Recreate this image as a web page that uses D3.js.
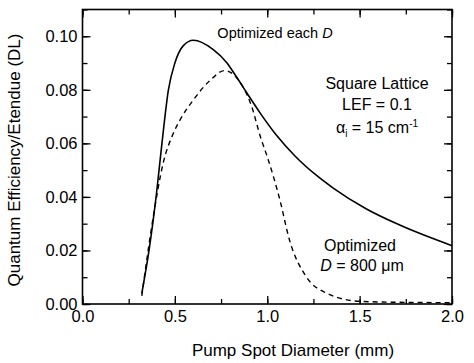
<!DOCTYPE html>
<html>
<head>
<meta charset="utf-8">
<script src="https://cdn.jsdelivr.net/npm/d3@7"></script>
<style>
  body { margin: 0; background: #fff; }
  svg { display: block; font-family: "Liberation Sans", Arial, sans-serif; }
</style>
</head>
<body>
<div id="graph"></div>
<script>
// pump spot diameter (mm) vs quantum efficiency / etendue
const solidX = [0.321, 0.36, 0.40, 0.43, 0.465, 0.50, 0.546, 0.60, 0.708, 0.781, 0.825, 0.889, 0.961, 1.05, 1.15, 1.267, 1.357, 1.537, 1.717, 2.0];
const solidY = [0.004, 0.020, 0.041, 0.060, 0.080, 0.090, 0.0965, 0.0985, 0.0950, 0.0901, 0.0857, 0.0789, 0.0714, 0.0630, 0.0553, 0.0480, 0.0433, 0.0355, 0.0295, 0.0218];
const dashX = [0.321, 0.384, 0.438, 0.49, 0.53, 0.60, 0.69, 0.77, 0.834, 0.915, 0.965, 1.0, 1.068, 1.12, 1.21, 1.32, 1.5, 1.75, 2.0];
const dashY = [0.003, 0.033, 0.053, 0.0635, 0.069, 0.0762, 0.0835, 0.0872, 0.0845, 0.0739, 0.062, 0.055, 0.039, 0.024, 0.0103, 0.0041, 0.001, 0.0006, 0.0005];
const xTicks = [0, 0.5, 1.0, 1.5, 2.0];
const yTicks = [0, 0.02, 0.04, 0.06, 0.08, 0.10];

const width = 474, height = 363;
const margin = { top: 9.5, right: 22, bottom: 59, left: 82.5 };

const svg = d3.select('#graph')
  .append('svg')
  .attr('width', width)
  .attr('height', height);

const x = d3.scaleLinear().domain([0, 2]).range([margin.left, width - margin.right]);
const y = d3.scaleLinear().domain([0, 0.11]).range([height - margin.bottom, margin.top]);

const minorX = d3.range(0, 2.001, 0.25);
const minorY = d3.range(0, 0.1101, 0.01);

// frame
svg.append('rect')
  .attr('x', x(0)).attr('y', y(0.11))
  .attr('width', x(2) - x(0)).attr('height', y(0) - y(0.11))
  .attr('fill', 'none').attr('stroke', '#000').attr('stroke-width', 1.6);

function tickAxis(axis, transform, values, size, labels) {
  const g = svg.append('g').attr('transform', transform)
    .call(axis.tickValues(values).tickSizeInner(size).tickSizeOuter(0)
      .tickFormat(labels ? labels : ''));
  g.select('.domain').remove();
  g.selectAll('line').attr('stroke', '#000').attr('stroke-width', 1.3);
  return g;
}

// bottom / top
tickAxis(d3.axisBottom(x), `translate(0,${y(0)})`, minorX, -5);
tickAxis(d3.axisTop(x), `translate(0,${y(0.11)})`, minorX, -5);
// left / right
tickAxis(d3.axisLeft(y), `translate(${x(0)},0)`, minorY, -5);
tickAxis(d3.axisRight(y), `translate(${x(2)},0)`, minorY, -5);

// major ticks with labels
const bx = tickAxis(d3.axisBottom(x), `translate(0,${y(0)})`, xTicks, -8, d3.format('.1f'));
bx.selectAll('text').attr('font-size', 16.5).attr('fill', '#000').attr('y', 6).attr('dy', '0.71em');
tickAxis(d3.axisTop(x), `translate(0,${y(0.11)})`, xTicks, -8);
const ly = tickAxis(d3.axisLeft(y), `translate(${x(0)},0)`, yTicks, -8, d3.format('.2f'));
ly.selectAll('text').attr('font-size', 16.5).attr('fill', '#000').attr('x', -5);
tickAxis(d3.axisRight(y), `translate(${x(2)},0)`, yTicks, -8);

// curves
const line = d3.line()
  .x(d => x(d[0]))
  .y(d => y(d[1]))
  .curve(d3.curveMonotoneX);

svg.append('path')
  .datum(solidX.map((v, i) => [v, solidY[i]]))
  .attr('d', line)
  .attr('fill', 'none').attr('stroke', '#000').attr('stroke-width', 1.6);

svg.append('path')
  .datum(dashX.map((v, i) => [v, dashY[i]]))
  .attr('d', line)
  .attr('fill', 'none').attr('stroke', '#000').attr('stroke-width', 1.4)
  .attr('stroke-dasharray', '5,4');

// axis titles
svg.append('text')
  .attr('x', 293).attr('y', 356)
  .attr('text-anchor', 'middle').attr('font-size', 17)
  .text('Pump Spot Diameter (mm)');

svg.append('text')
  .attr('transform', 'translate(20,160) rotate(-90)')
  .attr('text-anchor', 'middle').attr('font-size', 17)
  .text('Quantum Efficiency/Etendue (DL)');

// annotations
const t1 = svg.append('text').attr('x', 275).attr('y', 38)
  .attr('text-anchor', 'middle').attr('font-size', 14.5);
t1.append('tspan').text('Optimized each ');
t1.append('tspan').attr('font-style', 'italic').text('D');

const notes = svg.append('g').attr('font-size', 16).attr('text-anchor', 'middle');
notes.append('text').attr('x', 377).attr('y', 89).text('Square Lattice');
notes.append('text').attr('x', 377).attr('y', 110).text('LEF = 0.1');
const a = notes.append('text').attr('x', 377).attr('y', 133);
a.append('tspan').text('\u03b1');
a.append('tspan').attr('font-size', 10).attr('dy', 4).text('i');
a.append('tspan').attr('dy', -4).text(' = 15 cm');
a.append('tspan').attr('font-size', 10).attr('dy', -6).text('-1');

notes.append('text').attr('x', 360).attr('y', 251).text('Optimized');
const d8 = notes.append('text').attr('x', 362).attr('y', 271);
d8.append('tspan').attr('font-style', 'italic').text('D');
d8.append('tspan').text(' = 800 \u03bcm');
</script>
</body>
</html>
